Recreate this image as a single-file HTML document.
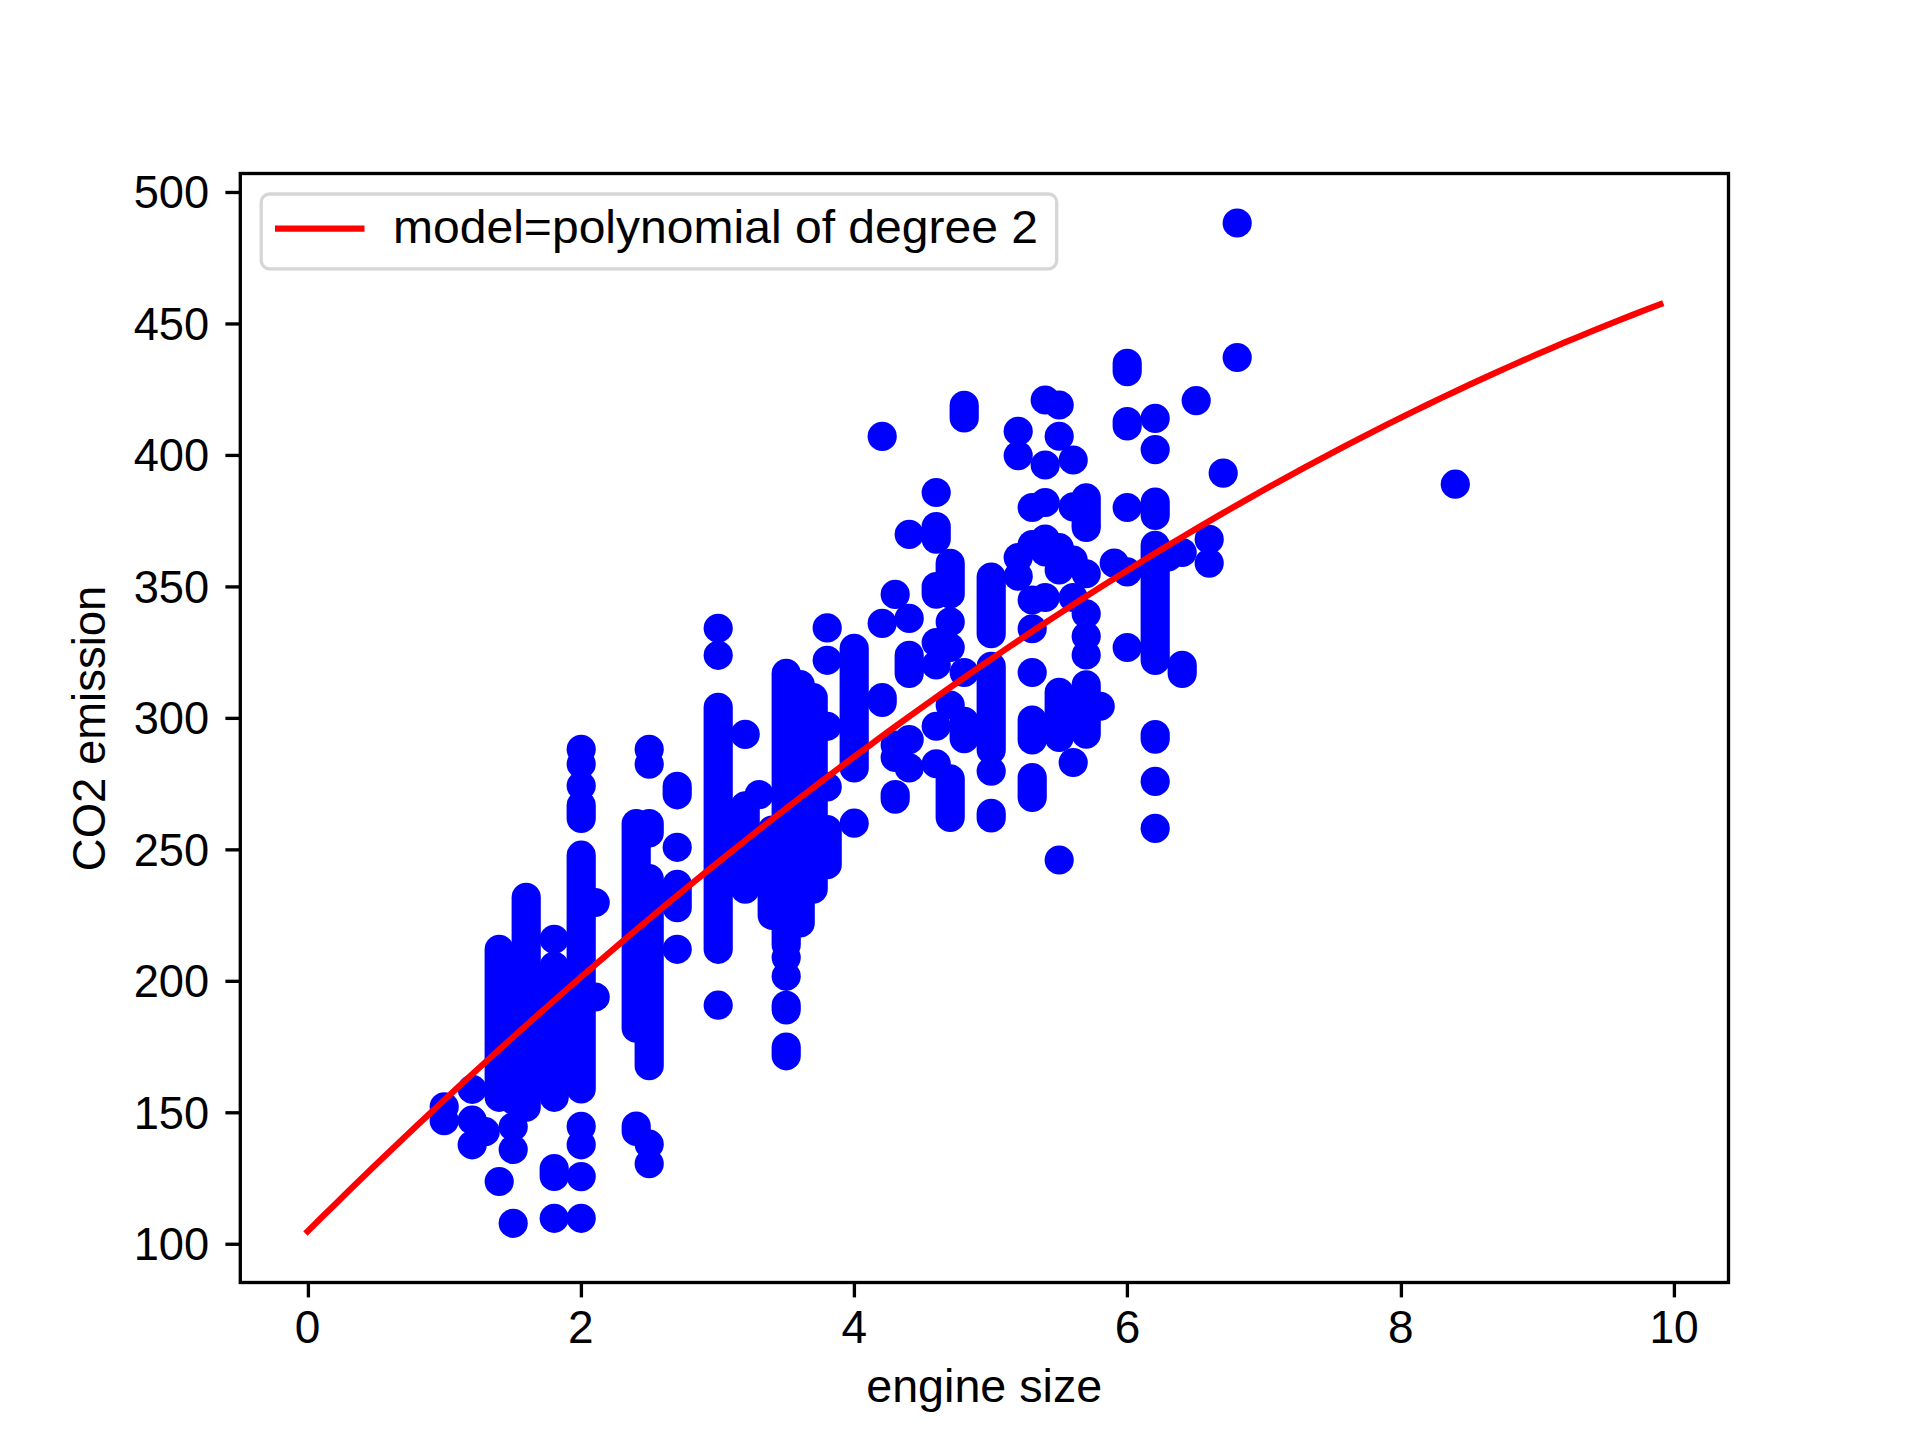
<!DOCTYPE html>
<html><head><meta charset="utf-8"><style>
html,body{margin:0;padding:0;background:#fff;}
svg{display:block;}
text{font-family:"Liberation Sans",sans-serif;font-size:46px;fill:#000;}
</style></head><body>
<svg width="1920" height="1440" viewBox="0 0 1920 1440">
<rect x="0" y="0" width="1920" height="1440" fill="#fff"/>
<g fill="#0000ff">
<circle cx="444.20" cy="1106.80" r="14.6"/>
<circle cx="444.20" cy="1120.70" r="14.6"/>
<circle cx="472.20" cy="1089.30" r="14.6"/>
<circle cx="472.20" cy="1120.20" r="14.6"/>
<circle cx="472.20" cy="1144.80" r="14.6"/>
<circle cx="485.20" cy="1131.70" r="14.6"/>
<rect x="484.60" y="934.70" width="29.20" height="177.20" rx="14.6" ry="14.6"/>
<circle cx="499.20" cy="1181.50" r="14.6"/>
<rect x="498.60" y="945.40" width="29.20" height="169.20" rx="14.6" ry="14.6"/>
<circle cx="513.20" cy="1126.70" r="14.6"/>
<circle cx="513.20" cy="1149.50" r="14.6"/>
<circle cx="513.20" cy="1223.30" r="14.6"/>
<rect x="511.60" y="882.70" width="29.20" height="239.20" rx="14.6" ry="14.6"/>
<circle cx="554.20" cy="939.30" r="14.6"/>
<rect x="539.60" y="951.40" width="29.20" height="160.50" rx="14.6" ry="14.6"/>
<rect x="539.60" y="1153.90" width="29.20" height="37.20" rx="14.6" ry="14.6"/>
<circle cx="554.20" cy="1218.30" r="14.6"/>
<circle cx="581.20" cy="749.30" r="14.6"/>
<circle cx="581.20" cy="764.00" r="14.6"/>
<circle cx="581.20" cy="785.80" r="14.6"/>
<rect x="566.60" y="790.60" width="29.20" height="42.50" rx="14.6" ry="14.6"/>
<rect x="566.60" y="840.60" width="29.20" height="263.00" rx="14.6" ry="14.6"/>
<circle cx="581.20" cy="1126.40" r="14.6"/>
<circle cx="581.20" cy="1144.80" r="14.6"/>
<circle cx="581.20" cy="1176.60" r="14.6"/>
<circle cx="581.20" cy="1218.30" r="14.6"/>
<circle cx="595.20" cy="902.50" r="14.6"/>
<circle cx="595.20" cy="997.00" r="14.6"/>
<rect x="621.60" y="808.90" width="29.20" height="233.90" rx="14.6" ry="14.6"/>
<rect x="621.60" y="1111.40" width="29.20" height="34.70" rx="14.6" ry="14.6"/>
<circle cx="649.20" cy="749.30" r="14.6"/>
<circle cx="649.20" cy="764.20" r="14.6"/>
<rect x="634.60" y="808.90" width="29.20" height="38.70" rx="14.6" ry="14.6"/>
<rect x="634.60" y="863.90" width="29.20" height="216.40" rx="14.6" ry="14.6"/>
<circle cx="649.20" cy="1144.20" r="14.6"/>
<circle cx="649.20" cy="1163.70" r="14.6"/>
<rect x="662.60" y="771.70" width="29.20" height="37.70" rx="14.6" ry="14.6"/>
<circle cx="677.20" cy="847.30" r="14.6"/>
<rect x="662.60" y="869.70" width="29.20" height="52.60" rx="14.6" ry="14.6"/>
<circle cx="677.20" cy="949.30" r="14.6"/>
<circle cx="718.20" cy="628.30" r="14.6"/>
<circle cx="718.20" cy="655.30" r="14.6"/>
<rect x="703.60" y="692.70" width="29.20" height="271.20" rx="14.6" ry="14.6"/>
<circle cx="718.20" cy="1005.20" r="14.6"/>
<circle cx="745.20" cy="734.40" r="14.6"/>
<rect x="730.60" y="791.30" width="29.20" height="112.40" rx="14.6" ry="14.6"/>
<circle cx="759.20" cy="794.60" r="14.6"/>
<rect x="757.60" y="815.40" width="29.20" height="114.60" rx="14.6" ry="14.6"/>
<rect x="771.60" y="658.80" width="29.20" height="300.50" rx="14.6" ry="14.6"/>
<circle cx="786.20" cy="957.50" r="14.6"/>
<circle cx="786.20" cy="976.30" r="14.6"/>
<rect x="771.60" y="990.70" width="29.20" height="33.90" rx="14.6" ry="14.6"/>
<rect x="771.60" y="1032.40" width="29.20" height="38.00" rx="14.6" ry="14.6"/>
<rect x="785.60" y="670.00" width="29.20" height="267.50" rx="14.6" ry="14.6"/>
<rect x="798.60" y="682.90" width="29.20" height="220.80" rx="14.6" ry="14.6"/>
<circle cx="827.20" cy="627.90" r="14.6"/>
<circle cx="827.20" cy="660.30" r="14.6"/>
<circle cx="827.20" cy="726.30" r="14.6"/>
<circle cx="827.20" cy="786.90" r="14.6"/>
<rect x="812.60" y="815.00" width="29.20" height="64.35" rx="14.6" ry="14.6"/>
<rect x="839.60" y="633.65" width="29.20" height="148.85" rx="14.6" ry="14.6"/>
<circle cx="854.20" cy="823.20" r="14.6"/>
<circle cx="882.20" cy="436.40" r="14.6"/>
<circle cx="882.20" cy="623.40" r="14.6"/>
<rect x="867.60" y="683.00" width="29.20" height="34.00" rx="14.6" ry="14.6"/>
<circle cx="895.20" cy="594.40" r="14.6"/>
<circle cx="895.20" cy="745.00" r="14.6"/>
<circle cx="895.20" cy="757.50" r="14.6"/>
<rect x="880.60" y="780.00" width="29.20" height="33.70" rx="14.6" ry="14.6"/>
<circle cx="909.20" cy="534.40" r="14.6"/>
<circle cx="909.20" cy="618.40" r="14.6"/>
<rect x="894.60" y="640.70" width="29.20" height="47.40" rx="14.6" ry="14.6"/>
<circle cx="909.20" cy="739.60" r="14.6"/>
<circle cx="909.20" cy="767.90" r="14.6"/>
<circle cx="936.20" cy="492.50" r="14.6"/>
<rect x="921.60" y="511.90" width="29.20" height="41.80" rx="14.6" ry="14.6"/>
<rect x="921.60" y="571.90" width="29.20" height="36.80" rx="14.6" ry="14.6"/>
<circle cx="936.20" cy="642.50" r="14.6"/>
<circle cx="936.20" cy="665.00" r="14.6"/>
<circle cx="936.20" cy="726.25" r="14.6"/>
<circle cx="936.20" cy="763.75" r="14.6"/>
<rect x="935.60" y="548.80" width="29.20" height="59.80" rx="14.6" ry="14.6"/>
<circle cx="950.20" cy="621.90" r="14.6"/>
<circle cx="950.20" cy="647.50" r="14.6"/>
<circle cx="950.20" cy="705.00" r="14.6"/>
<rect x="935.60" y="764.15" width="29.20" height="67.95" rx="14.6" ry="14.6"/>
<rect x="949.60" y="390.65" width="29.20" height="41.85" rx="14.6" ry="14.6"/>
<circle cx="964.20" cy="672.50" r="14.6"/>
<rect x="949.60" y="706.70" width="29.20" height="46.60" rx="14.6" ry="14.6"/>
<rect x="976.60" y="562.40" width="29.20" height="85.90" rx="14.6" ry="14.6"/>
<rect x="976.60" y="651.65" width="29.20" height="112.95" rx="14.6" ry="14.6"/>
<circle cx="991.20" cy="771.25" r="14.6"/>
<rect x="976.60" y="798.65" width="29.20" height="33.95" rx="14.6" ry="14.6"/>
<circle cx="1018.20" cy="431.25" r="14.6"/>
<circle cx="1018.20" cy="455.60" r="14.6"/>
<circle cx="1018.20" cy="557.50" r="14.6"/>
<circle cx="1018.20" cy="576.25" r="14.6"/>
<circle cx="1032.20" cy="507.50" r="14.6"/>
<circle cx="1032.20" cy="544.60" r="14.6"/>
<circle cx="1032.20" cy="600.00" r="14.6"/>
<circle cx="1032.20" cy="628.75" r="14.6"/>
<circle cx="1032.20" cy="672.50" r="14.6"/>
<rect x="1017.60" y="705.40" width="29.20" height="49.20" rx="14.6" ry="14.6"/>
<rect x="1017.60" y="762.90" width="29.20" height="49.20" rx="14.6" ry="14.6"/>
<circle cx="1045.20" cy="400.00" r="14.6"/>
<circle cx="1045.20" cy="465.00" r="14.6"/>
<circle cx="1045.20" cy="502.50" r="14.6"/>
<circle cx="1045.20" cy="539.00" r="14.6"/>
<circle cx="1045.20" cy="552.00" r="14.6"/>
<circle cx="1045.20" cy="597.50" r="14.6"/>
<circle cx="1059.20" cy="405.00" r="14.6"/>
<circle cx="1059.20" cy="436.25" r="14.6"/>
<circle cx="1059.20" cy="547.50" r="14.6"/>
<circle cx="1059.20" cy="570.00" r="14.6"/>
<rect x="1044.60" y="677.80" width="29.20" height="74.30" rx="14.6" ry="14.6"/>
<circle cx="1059.20" cy="860.00" r="14.6"/>
<circle cx="1073.20" cy="460.00" r="14.6"/>
<circle cx="1073.20" cy="506.90" r="14.6"/>
<circle cx="1073.20" cy="560.00" r="14.6"/>
<circle cx="1073.20" cy="597.50" r="14.6"/>
<circle cx="1073.20" cy="762.50" r="14.6"/>
<rect x="1071.60" y="483.15" width="29.20" height="55.55" rx="14.6" ry="14.6"/>
<circle cx="1086.20" cy="527.50" r="14.6"/>
<circle cx="1086.20" cy="573.75" r="14.6"/>
<circle cx="1086.20" cy="613.75" r="14.6"/>
<circle cx="1086.20" cy="636.25" r="14.6"/>
<circle cx="1086.20" cy="655.00" r="14.6"/>
<rect x="1071.60" y="670.30" width="29.20" height="78.50" rx="14.6" ry="14.6"/>
<circle cx="1100.20" cy="706.25" r="14.6"/>
<circle cx="1114.20" cy="563.10" r="14.6"/>
<rect x="1112.60" y="348.80" width="29.20" height="37.40" rx="14.6" ry="14.6"/>
<rect x="1112.60" y="406.90" width="29.20" height="33.70" rx="14.6" ry="14.6"/>
<circle cx="1127.20" cy="507.50" r="14.6"/>
<circle cx="1127.20" cy="571.90" r="14.6"/>
<circle cx="1127.20" cy="647.50" r="14.6"/>
<circle cx="1155.20" cy="418.40" r="14.6"/>
<circle cx="1155.20" cy="449.60" r="14.6"/>
<rect x="1140.60" y="487.50" width="29.20" height="42.50" rx="14.6" ry="14.6"/>
<rect x="1140.60" y="530.65" width="29.20" height="144.35" rx="14.6" ry="14.6"/>
<rect x="1140.60" y="720.00" width="29.20" height="33.70" rx="14.6" ry="14.6"/>
<circle cx="1155.20" cy="781.40" r="14.6"/>
<circle cx="1155.20" cy="828.40" r="14.6"/>
<circle cx="1168.20" cy="556.90" r="14.6"/>
<circle cx="1182.20" cy="552.50" r="14.6"/>
<rect x="1167.60" y="650.65" width="29.20" height="37.45" rx="14.6" ry="14.6"/>
<circle cx="1196.20" cy="400.60" r="14.6"/>
<circle cx="1209.20" cy="539.40" r="14.6"/>
<circle cx="1209.20" cy="563.10" r="14.6"/>
<circle cx="1223.20" cy="473.10" r="14.6"/>
<circle cx="1237.20" cy="223.00" r="14.6"/>
<circle cx="1237.20" cy="357.50" r="14.6"/>
<circle cx="1455.30" cy="484.20" r="14.6"/>
</g>
<polyline points="307.64,1231.35 321.30,1217.83 334.97,1204.40 348.63,1191.05 362.30,1177.79 375.96,1164.61 389.62,1151.52 403.29,1138.51 416.95,1125.59 430.62,1112.75 444.28,1099.99 457.94,1087.32 471.61,1074.74 485.27,1062.24 498.93,1049.82 512.60,1037.49 526.26,1025.25 539.93,1013.09 553.59,1001.01 567.25,989.02 580.92,977.11 594.58,965.29 608.25,953.55 621.91,941.90 635.57,930.33 649.24,918.85 662.90,907.45 676.57,896.14 690.23,884.91 703.89,873.76 717.56,862.70 731.22,851.73 744.88,840.84 758.55,830.03 772.21,819.31 785.88,808.68 799.54,798.12 813.20,787.66 826.87,777.28 840.53,766.98 854.20,756.77 867.86,746.64 881.52,736.60 895.19,726.64 908.85,716.76 922.52,706.98 936.18,697.27 949.84,687.65 963.51,678.12 977.17,668.67 990.84,659.30 1004.50,650.02 1018.16,640.83 1031.83,631.72 1045.49,622.69 1059.15,613.75 1072.82,604.89 1086.48,596.12 1100.15,587.44 1113.81,578.83 1127.47,570.32 1141.14,561.88 1154.80,553.53 1168.47,545.27 1182.13,537.09 1195.79,529.00 1209.46,520.99 1223.12,513.07 1236.79,505.23 1250.45,497.47 1264.11,489.80 1277.78,482.22 1291.44,474.71 1305.10,467.30 1318.77,459.97 1332.43,452.72 1346.10,445.56 1359.76,438.48 1373.42,431.49 1387.09,424.58 1400.75,417.76 1414.42,411.02 1428.08,404.37 1441.74,397.80 1455.41,391.32 1469.07,384.92 1482.74,378.60 1496.40,372.37 1510.06,366.23 1523.73,360.17 1537.39,354.19 1551.05,348.30 1564.72,342.49 1578.38,336.77 1592.05,331.14 1605.71,325.58 1619.37,320.12 1633.04,314.74 1646.70,309.44 1660.37,304.22" fill="none" stroke="#ff0000" stroke-width="6.25" stroke-linecap="square" stroke-linejoin="round"/>
<rect x="240.3" y="173.5" width="1488.2" height="1109" fill="none" stroke="#000" stroke-width="3.333" stroke-linejoin="miter"/>
<g stroke="#000" stroke-width="3.333">
<line x1="308.40" y1="1282.5" x2="308.40" y2="1297.40"/>
<line x1="581.40" y1="1282.5" x2="581.40" y2="1297.40"/>
<line x1="854.40" y1="1282.5" x2="854.40" y2="1297.40"/>
<line x1="1127.40" y1="1282.5" x2="1127.40" y2="1297.40"/>
<line x1="1401.40" y1="1282.5" x2="1401.40" y2="1297.40"/>
<line x1="1674.40" y1="1282.5" x2="1674.40" y2="1297.40"/>
<line x1="240.3" y1="1244.25" x2="225.40" y2="1244.25"/>
<line x1="240.3" y1="1112.78" x2="225.40" y2="1112.78"/>
<line x1="240.3" y1="981.31" x2="225.40" y2="981.31"/>
<line x1="240.3" y1="849.84" x2="225.40" y2="849.84"/>
<line x1="240.3" y1="718.37" x2="225.40" y2="718.37"/>
<line x1="240.3" y1="586.90" x2="225.40" y2="586.90"/>
<line x1="240.3" y1="455.43" x2="225.40" y2="455.43"/>
<line x1="240.3" y1="323.96" x2="225.40" y2="323.96"/>
<line x1="240.3" y1="192.49" x2="225.40" y2="192.49"/>
</g>
<g>
<text x="307.64" y="1343" text-anchor="middle">0</text>
<text x="580.92" y="1343" text-anchor="middle">2</text>
<text x="854.20" y="1343" text-anchor="middle">4</text>
<text x="1127.47" y="1343" text-anchor="middle">6</text>
<text x="1400.75" y="1343" text-anchor="middle">8</text>
<text x="1674.03" y="1343" text-anchor="middle" textLength="49.3" lengthAdjust="spacingAndGlyphs">10</text>
<text x="209.2" y="1260.05" text-anchor="end" textLength="75.5" lengthAdjust="spacingAndGlyphs">100</text>
<text x="209.2" y="1128.58" text-anchor="end" textLength="75.5" lengthAdjust="spacingAndGlyphs">150</text>
<text x="209.2" y="997.11" text-anchor="end" textLength="75.5" lengthAdjust="spacingAndGlyphs">200</text>
<text x="209.2" y="865.64" text-anchor="end" textLength="75.5" lengthAdjust="spacingAndGlyphs">250</text>
<text x="209.2" y="734.17" text-anchor="end" textLength="75.5" lengthAdjust="spacingAndGlyphs">300</text>
<text x="209.2" y="602.70" text-anchor="end" textLength="75.5" lengthAdjust="spacingAndGlyphs">350</text>
<text x="209.2" y="471.23" text-anchor="end" textLength="75.5" lengthAdjust="spacingAndGlyphs">400</text>
<text x="209.2" y="339.76" text-anchor="end" textLength="75.5" lengthAdjust="spacingAndGlyphs">450</text>
<text x="209.2" y="208.29" text-anchor="end" textLength="75.5" lengthAdjust="spacingAndGlyphs">500</text>
<text x="866.2" y="1402" textLength="236" lengthAdjust="spacingAndGlyphs">engine size</text>
<text transform="translate(105,871.2) rotate(-90)" textLength="285.5" lengthAdjust="spacingAndGlyphs">CO2 emission</text>
</g>
<rect x="261.2" y="194" width="795.5" height="74.8" rx="8.3" ry="8.3" fill="#fff" fill-opacity="0.8" stroke="#d6d6d6" stroke-width="3.333"/>
<line x1="275" y1="228.6" x2="364.5" y2="228.6" stroke="#ff0000" stroke-width="6.25"/>
<text x="393" y="243" textLength="645" lengthAdjust="spacingAndGlyphs">model=polynomial of degree 2</text>
</svg>
</body></html>
